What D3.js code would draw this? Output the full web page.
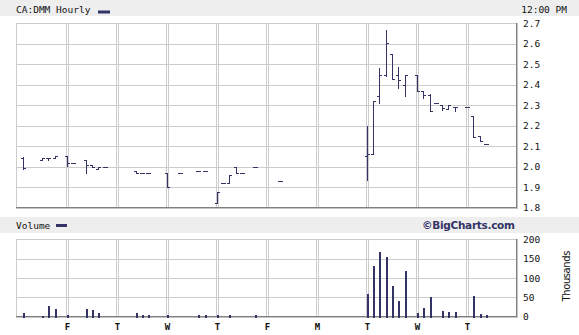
<!DOCTYPE html>
<html>
<head>
<meta charset="utf-8">
<script src="https://cdn.jsdelivr.net/npm/d3@7"></script>
<style>
  body { margin: 0; background: #fff; }
  svg { display: block; }
</style>
</head>
<body>
<svg id="chart" width="579" height="335"></svg>
<script>
// hourly bars: slot = day * 8 + hour index (10 trading days)
const slots  = [1, 4, 5, 6, 8, 9, 11, 12, 13, 14, 19, 20, 21, 24, 26, 29, 30, 32, 33, 34, 35, 36, 38, 42,
                56, 57, 58, 59, 60, 61, 62, 64, 65, 66, 67, 68, 69, 70, 72, 73, 74, 75];
const opens  = [2.041, 2.033, 2.041, 2.041, 2.052, 2.017, 2.033, 2.008, 1.989, 1.998, 1.979, 1.968, 1.968,
                1.968, 1.968, 1.979, 1.979, 1.820, 1.919, 1.919, 1.997, 1.968, 2.000, 1.930,
                2.050, 2.060, 2.343, 2.450, 2.553, 2.450, 2.400, 2.450, 2.371, 2.350, 2.310, 2.300, 2.280, 2.292,
                2.292, 2.250, 2.152, 2.110];
const highs  = [2.048, 2.041, 2.041, 2.051, 2.052, 2.017, 2.033, 2.008, 1.998, 1.998, 1.979, 1.968, 1.968,
                1.968, 1.968, 1.979, 1.979, 1.877, 1.919, 1.960, 1.997, 1.968, 2.000, 1.930,
                2.201, 2.322, 2.482, 2.667, 2.553, 2.486, 2.450, 2.450, 2.371, 2.355, 2.310, 2.300, 2.300, 2.292,
                2.292, 2.250, 2.152, 2.110];
const lows   = [1.989, 2.033, 2.031, 2.041, 2.005, 2.017, 1.967, 2.000, 1.989, 1.998, 1.968, 1.968, 1.968,
                1.899, 1.968, 1.979, 1.979, 1.820, 1.919, 1.919, 1.968, 1.968, 2.000, 1.930,
                1.935, 2.060, 2.310, 2.443, 2.430, 2.383, 2.347, 2.371, 2.335, 2.270, 2.310, 2.275, 2.280, 2.270,
                2.292, 2.146, 2.126, 2.110];
const closes = [1.995, 2.041, 2.041, 2.051, 2.017, 2.017, 2.008, 2.000, 1.998, 1.998, 1.968, 1.968, 1.968,
                1.899, 1.968, 1.979, 1.979, 1.877, 1.919, 1.960, 1.968, 1.968, 2.000, 1.930,
                2.061, 2.322, 2.450, 2.604, 2.430, 2.425, 2.450, 2.371, 2.350, 2.270, 2.310, 2.285, 2.300, 2.292,
                2.292, 2.146, 2.126, 2.110];
const volumes = [10, 2.5, 27.6, 20.7, 3, 0, 20.7, 18, 7.8, 0, 10, 2.6, 5, 5, 0, 3, 3, 5, 0, 3, 0, 0, 5, 0,
                 58.7, 131, 167.5, 154.5, 79.4, 40.5, 118, 9.5, 22.4, 51, 0, 14.7, 12, 12, 0, 53.5, 7, 4.3];

const dayLabels = ["F", "T", "W", "T", "F", "M", "T", "W", "T"];
const priceTicks = [1.8, 1.9, 2.0, 2.1, 2.2, 2.3, 2.4, 2.5, 2.6, 2.7];
const volumeTicks = [0, 50, 100, 150, 200];

const navy = "#333366";
const grid = "#cccccc";
const mono = "'DejaVu Sans Mono', monospace";

const svg = d3.select("#chart");

const x = d3.scaleLinear().domain([0, 80]).range([16, 516]);
const y = d3.scaleLinear().domain([1.8, 2.7]).range([207.5, 23.5]);
const yv = d3.scaleLinear().domain([0, 200]).range([316.5, 239.5]);

const px = s => Math.round(x(s)) + 1;
const py = v => Math.round(y(v));

// header bands
svg.append("rect").attr("x", 0).attr("y", 0).attr("width", 579).attr("height", 16).attr("fill", "#eeeeee");
svg.append("rect").attr("x", 0).attr("y", 217).attr("width", 579).attr("height", 16).attr("fill", "#eeeeee");

svg.append("text").text("CA:DMM Hourly")
    .attr("x", 16).attr("y", 13)
    .attr("font-family", mono).attr("font-size", 9.5).attr("fill", "#111");
svg.append("rect").attr("x", 98).attr("y", 10.5).attr("width", 12).attr("height", 3).attr("fill", navy);

svg.append("text").text("12:00 PM")
    .attr("x", 567).attr("y", 13).attr("text-anchor", "end")
    .attr("font-family", mono).attr("font-size", 9.5).attr("fill", "#111");

svg.append("text").text("Volume")
    .attr("x", 16).attr("y", 228.5)
    .attr("font-family", mono).attr("font-size", 9.5).attr("fill", "#111");
svg.append("rect").attr("x", 56).attr("y", 224).attr("width", 11).attr("height", 3).attr("fill", navy);

svg.append("text").text("\u00A9BigCharts.com")
    .attr("x", 515).attr("y", 229).attr("text-anchor", "end")
    .attr("font-family", "'DejaVu Sans', sans-serif").attr("font-weight", "bold")
    .attr("font-size", 10.5).attr("textLength", 93).attr("fill", navy);

// panel frames + grids
function panel(top, bottom, hTicks, yScale) {
    const g = svg.append("g").attr("shape-rendering", "crispEdges");

    g.selectAll(".hg").data(hTicks).enter().append("line")
        .attr("x1", 16).attr("x2", 516)
        .attr("y1", d => Math.round(yScale(d)) + 0.5)
        .attr("y2", d => Math.round(yScale(d)) + 0.5)
        .attr("stroke", grid);

    const days = d3.range(1, 10);
    g.selectAll(".vg").data(days).enter().append("line")
        .attr("x1", d => Math.round(x(d * 8)) + 0.5).attr("x2", d => Math.round(x(d * 8)) + 0.5)
        .attr("y1", top).attr("y2", bottom)
        .attr("stroke", grid);
    g.selectAll(".vg2").data(days).enter().append("line")
        .attr("x1", d => Math.round(x(d * 8)) + 2.5).attr("x2", d => Math.round(x(d * 8)) + 2.5)
        .attr("y1", top).attr("y2", bottom)
        .attr("stroke", grid);

    // top/left light, bottom/right dark
    g.append("line").attr("x1", 16).attr("x2", 516).attr("y1", top + 0.5).attr("y2", top + 0.5).attr("stroke", grid);
    g.append("line").attr("x1", 16.5).attr("x2", 16.5).attr("y1", top).attr("y2", bottom).attr("stroke", grid);
    g.append("line").attr("x1", 16).attr("x2", 517).attr("y1", bottom + 0.5).attr("y2", bottom + 0.5).attr("stroke", "#808080");
    g.append("line").attr("x1", 16).attr("x2", 518).attr("y1", bottom + 1.5).attr("y2", bottom + 1.5).attr("stroke", "#c4c4c4");
    g.append("line").attr("x1", 516.5).attr("x2", 516.5).attr("y1", top).attr("y2", bottom + 1).attr("stroke", "#808080");
    g.append("line").attr("x1", 517.5).attr("x2", 517.5).attr("y1", top).attr("y2", bottom + 2).attr("stroke", "#c4c4c4");
}

panel(23, 207, priceTicks.slice(1, -1), y);
panel(239, 316, volumeTicks.slice(1, -1), yv);

// axes labels
const priceAxis = d3.axisRight(y).tickValues(priceTicks).tickSize(0).tickPadding(7).tickFormat(d3.format(".1f"));
svg.append("g").attr("transform", "translate(516,0)").call(priceAxis)
    .call(g => g.select(".domain").remove())
    .selectAll("text").attr("font-family", mono).attr("font-size", 9.5).attr("fill", "#111");

const volAxis = d3.axisRight(yv).tickValues(volumeTicks).tickSize(0).tickPadding(7).tickFormat(d3.format("d"));
svg.append("g").attr("transform", "translate(516,0)").call(volAxis)
    .call(g => g.select(".domain").remove())
    .selectAll("text").attr("font-family", mono).attr("font-size", 9.5).attr("fill", "#111");

svg.append("text").text("Thousands")
    .attr("transform", "translate(570,276) rotate(-90)")
    .attr("text-anchor", "middle")
    .attr("font-family", "'DejaVu Sans', sans-serif").attr("font-size", 10)
    .attr("textLength", 51).attr("fill", "#111");

svg.selectAll(".day").data(dayLabels).enter().append("text")
    .text(d => d)
    .attr("x", (d, i) => Math.round(x((i + 1) * 8)) + 1.5)
    .attr("y", 329.5)
    .attr("text-anchor", "middle")
    .attr("font-family", mono).attr("font-weight", "bold").attr("font-size", 9).attr("fill", "#111");

// price bars (OHLC)
const bars = slots.map((s, i) => ({ s, o: opens[i], h: highs[i], l: lows[i], c: closes[i], v: volumes[i] }));

const bg = svg.append("g").attr("shape-rendering", "crispEdges").attr("stroke", navy).attr("stroke-width", 1);

bg.selectAll(".hl").data(bars).enter().append("line")
    .attr("x1", d => px(d.s) + 0.5).attr("x2", d => px(d.s) + 0.5)
    .attr("y1", d => py(d.h)).attr("y2", d => py(d.l) + 1);

bg.selectAll(".op").data(bars).enter().append("line")
    .attr("x1", d => px(d.s) - 2).attr("x2", d => px(d.s))
    .attr("y1", d => py(d.o) + 0.5).attr("y2", d => py(d.o) + 0.5);

bg.selectAll(".cl").data(bars).enter().append("line")
    .attr("x1", d => px(d.s) + 1).attr("x2", d => px(d.s) + 3)
    .attr("y1", d => py(d.c) + 0.5).attr("y2", d => py(d.c) + 0.5);

// volume bars
svg.append("g").attr("shape-rendering", "crispEdges")
    .selectAll("rect").data(bars.filter(d => d.v > 0)).enter().append("rect")
    .attr("x", d => px(d.s))
    .attr("width", 2)
    .attr("y", d => Math.round(yv(d.v)))
    .attr("height", d => Math.round(yv(0)) - Math.round(yv(d.v)) + 1)
    .attr("fill", navy);
</script>
</body>
</html>
